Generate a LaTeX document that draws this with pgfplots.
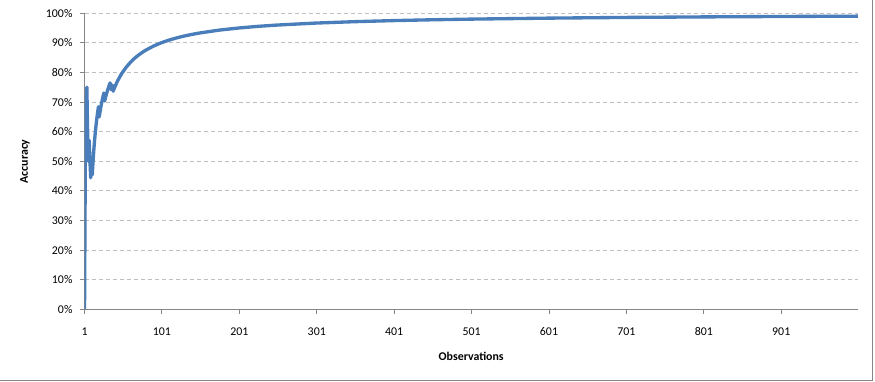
\documentclass[border=0pt]{standalone}
\usepackage{pgfplots}
\pgfplotsset{compat=1.18}
\usepackage{fontspec}
\setmainfont{Carlito}
\definecolor{linecol}{HTML}{4A7EBB}
\definecolor{axisgray}{HTML}{868686}
\definecolor{gridgray}{HTML}{BFBFBF}
\begin{document}
\begin{tikzpicture}
\useasboundingbox (0,0) rectangle (656.25pt,286.5pt);
\draw[axisgray, line width=0.75pt] (0,1.1pt) -- (654.6pt,1.1pt) -- (654.6pt,286.5pt);
\begin{axis}[
  at={(63.4pt,54.4pt)}, anchor=south west,
  scale only axis, width=580pt, height=222.2pt,
  xmin=1, xmax=1000, ymin=0, ymax=100,
  xtick={1,101,201,301,401,501,601,701,801,901},
  ytick={0,10,...,100},
  /pgf/number format/assume math mode=true,
  xticklabel={\pgfmathprintnumber{\tick}},
  yticklabel={\pgfmathprintnumber{\tick}\%},
  axis x line*=bottom, axis y line*=left,
  axis line style={axisgray, line width=0.75pt},
  tick style={axisgray, line width=0.75pt},
  tick align=outside, major tick length=3.5pt,
  ymajorgrids, grid style={gridgray, line width=0.75pt, dash pattern=on 3pt off 2.25pt},
  ticklabel style={font=\fontsize{8.9}{10}\selectfont, text=black},
  yticklabel style={anchor=east, xshift=-2pt},
  xticklabel style={anchor=north, yshift=-6.5pt},
  xlabel={Observations}, ylabel={Accuracy},
  xlabel style={at={(axis description cs:0.5,0)}, anchor=center, yshift=-34.9pt, font=\fontsize{8.9}{10}\selectfont\bfseries},
  ylabel style={at={(axis description cs:0,0.5)}, anchor=center, rotate=0, yshift=44.6pt, font=\fontsize{8.9}{10}\selectfont\bfseries},
]
\addplot[linecol, line width=2.5pt, line join=round, mark=none] coordinates {
(1,0)(2,50)(3,66.67)(4,75)(5,60)(6,50)(7,57.14)(8,50)(9,44.44)(10,50)(11,45.45)(12,50)(13,53.85)(14,57.14)(15,60)(16,62.5)(17,64.71)(18,66.67)(19,68.42)(20,65)(21,66.67)(22,68.18)(23,69.57)(24,70.83)(25,72)(26,73.08)(27,70.37)(28,71.43)(29,72.41)(30,73.33)(31,74.19)(32,75)(33,75.76)(34,76.47)(35,74.29)(36,75)(37,75.68)(38,73.68)(39,74.36)(40,75)(41,75.61)(42,76.19)(43,76.74)(44,77.27)(45,77.78)(46,78.26)(47,78.72)(48,79.17)
(50,80)(55,81.82)(60,83.33)(65,84.62)(70,85.71)(75,86.67)(80,87.5)(90,88.89)(100,90)(110,90.91)(120,91.67)(130,92.31)(140,92.86)(150,93.33)(175,94.29)(200,95)(225,95.56)(250,96)(300,96.67)(350,97.14)(400,97.5)(450,97.78)(500,98)(600,98.33)(700,98.57)(800,98.75)(900,98.89)(1000,99)
};
\end{axis}
\end{tikzpicture}
\end{document}
